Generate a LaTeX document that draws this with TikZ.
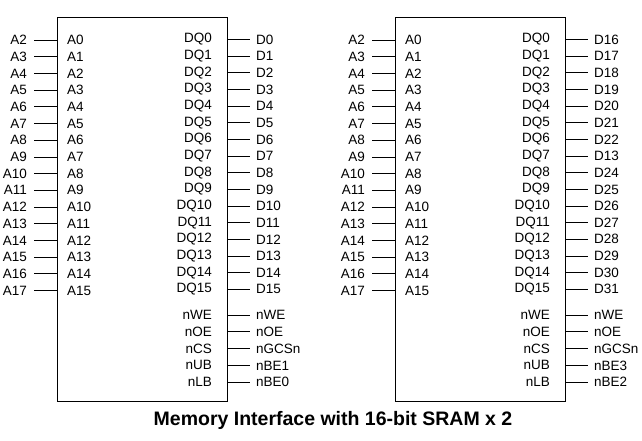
\documentclass[tikz,border=0pt]{standalone}
\usepackage{fontspec}
\setmainfont{Liberation Sans}
\begin{document}
\begin{tikzpicture}[x=1pt,y=-1pt,
  lbl/.style={font=\fontsize{13.5}{14}\selectfont,inner sep=0pt},
  wire/.style={line width=0.8pt}]
\useasboundingbox (0,0) rectangle (642,440);
\newcommand{\mychip}[4]{%
\node[draw,line width=0.8pt,minimum width=170,minimum height=384,inner sep=0,anchor=north west] (#2box) at (#1,17) {};
\foreach \i [evaluate=\i as \a using int(\i+2)] in {0,...,15}{
  \coordinate (#2al\i) at (#1,{40+16.7*\i});
  \coordinate (#2as\i) at ({#1-23},{40+16.7*\i});
  \node[lbl,anchor=west] (#2ai\i) at ({#1+10},{40+16.7*\i}) {A\i};
  \node[lbl,anchor=east] (#2ae\i) at ({#1-30},{40+16.7*\i}) {A\a};
  \draw[wire] (#2as\i) -- (#2al\i);
  \coordinate (#2dl\i) at ({#1+170},{39.5+16.65*\i});
  \coordinate (#2ds\i) at ({#1+193},{39.5+16.65*\i});
  \node[lbl,anchor=east] (#2di\i) at ({#1+155},{39.5+16.65*\i}) {DQ\i};
  \draw[wire] (#2dl\i) -- (#2ds\i);
}
\foreach \s/\t [count=\k from 0] in {nWE/nWE,nOE/nOE,nCS/nGCSn,nUB/#3,nLB/#4}{
  \coordinate (#2cl\k) at ({#1+170},{315+16.8*\k});
  \coordinate (#2cs\k) at ({#1+193},{315+16.8*\k});
  \node[lbl,anchor=east] (#2ci\k) at ({#1+155},{315+16.8*\k}) {\s};
  \node[lbl,anchor=west] (#2ce\k) at ({#1+199},{315+16.8*\k}) {\t};
  \draw[wire] (#2cl\k) -- (#2cs\k);
}
}
\mychip{57}{L}{nBE1}{nBE0}
\mychip{395}{R}{nBE3}{nBE2}
\foreach \d [count=\k from 0] in {0,...,15}{
  \node[lbl,anchor=west] (Lde\k) at (256,{39.5+16.65*\k}) {D\d};}
\foreach \d [count=\k from 0] in {16,17,18,19,20,21,22,13,24,25,26,27,28,29,30,31}{
  \node[lbl,anchor=west] (Rde\k) at (594,{39.5+16.65*\k}) {D\d};}
\node[font=\bfseries\fontsize{19.5}{20}\selectfont] (title) at (333,420) {Memory Interface with 16-bit SRAM x 2};
\end{tikzpicture}
\end{document}
